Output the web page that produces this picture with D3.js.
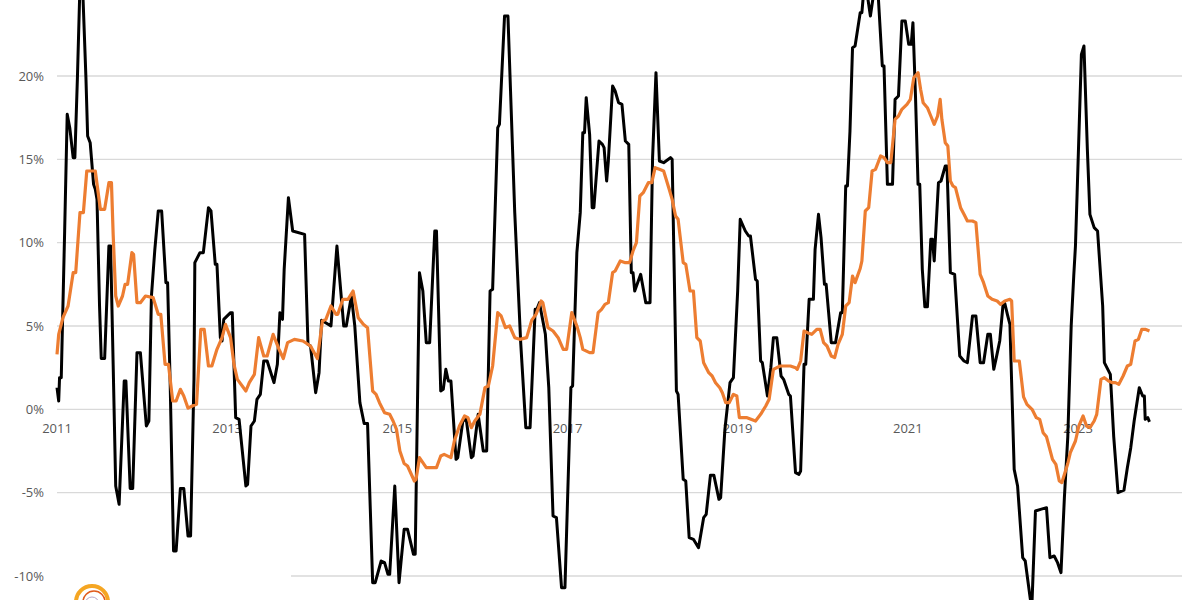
<!DOCTYPE html>
<html>
<head>
<meta charset="utf-8">
<script src="https://cdn.jsdelivr.net/npm/d3@7"></script>
<style>
  html, body { margin: 0; padding: 0; background: #fff; }
  svg { display: block; font-family: "Open Sans", "DejaVu Sans", sans-serif; }
</style>
</head>
<body>
<div id="chart"></div>
<script>
// yearly change, black series: [decimal year, percent]
const blackSeries = [
  [2011.00,1.3],[2011.02,0.5],[2011.03,1.9],[2011.05,1.9],[2011.09,10.7],[2011.12,17.7],[2011.15,16.9],
  [2011.19,15.1],[2011.21,15.1],[2011.24,19.9],[2011.27,25.5],[2011.30,25.5],[2011.34,19.9],[2011.36,16.4],
  [2011.39,16.0],[2011.43,13.5],[2011.45,13.2],[2011.47,12.6],[2011.50,6.2],[2011.52,3.05],[2011.56,3.05],
  [2011.61,9.8],[2011.63,9.8],[2011.66,2.7],[2011.69,-4.6],[2011.73,-5.7],[2011.79,1.7],[2011.81,1.7],
  [2011.86,-4.75],[2011.89,-4.75],[2011.94,3.4],[2011.98,3.4],[2012.05,-1.0],[2012.08,-0.7],[2012.11,6.8],
  [2012.15,9.6],[2012.19,11.9],[2012.23,11.9],[2012.28,7.6],[2012.30,7.6],[2012.33,1.6],[2012.37,-8.5],
  [2012.40,-8.5],[2012.45,-4.75],[2012.49,-4.75],[2012.54,-7.6],[2012.57,-7.6],[2012.61,1.8],[2012.62,8.8],
  [2012.68,9.4],[2012.72,9.4],[2012.78,12.1],[2012.81,11.9],[2012.86,8.7],[2012.88,8.7],[2012.92,4.3],
  [2012.94,4.1],[2012.96,5.4],[2013.04,5.8],[2013.06,5.8],[2013.10,-0.5],[2013.14,-0.6],[2013.22,-4.6],
  [2013.24,-4.5],[2013.28,-1.0],[2013.32,-0.7],[2013.35,0.6],[2013.39,0.9],[2013.43,2.9],[2013.47,2.9],
  [2013.55,1.6],[2013.59,2.7],[2013.62,5.8],[2013.65,5.4],[2013.67,8.4],[2013.72,12.7],[2013.77,10.7],
  [2013.91,10.5],[2013.95,3.9],[2013.98,3.8],[2014.04,1.0],[2014.08,2.2],[2014.11,5.35],[2014.22,5.0],
  [2014.29,9.8],[2014.35,6.2],[2014.37,5.0],[2014.40,5.0],[2014.46,6.8],[2014.50,5.0],[2014.56,0.4],
  [2014.61,-0.85],[2014.65,-0.85],[2014.71,-10.4],[2014.74,-10.4],[2014.81,-9.1],[2014.85,-9.2],
  [2014.89,-9.9],[2014.91,-9.9],[2014.97,-4.6],[2015.02,-10.4],[2015.08,-7.2],[2015.12,-7.2],
  [2015.19,-8.7],[2015.21,-8.7],[2015.26,8.2],[2015.30,7.1],[2015.34,4.0],[2015.38,4.0],[2015.44,10.7],
  [2015.46,10.7],[2015.51,1.1],[2015.54,1.2],[2015.57,2.4],[2015.60,1.7],[2015.63,1.7],[2015.69,-3.0],
  [2015.71,-2.9],[2015.77,-0.7],[2015.81,-0.6],[2015.87,-2.9],[2015.89,-2.8],[2015.95,-0.3],[2016.01,-2.5],
  [2016.05,-2.5],[2016.09,7.1],[2016.12,7.2],[2016.18,16.9],[2016.20,17.1],[2016.26,23.6],[2016.30,23.6],
  [2016.38,11.8],[2016.45,4.0],[2016.51,-1.1],[2016.56,-1.1],[2016.62,6.0],[2016.64,6.0],[2016.67,6.4],
  [2016.74,4.5],[2016.78,1.3],[2016.83,-6.4],[2016.87,-6.5],[2016.93,-10.7],[2016.97,-10.7],[2017.04,1.3],
  [2017.06,1.4],[2017.11,9.4],[2017.15,11.8],[2017.18,16.6],[2017.20,16.6],[2017.22,18.7],[2017.26,16.5],
  [2017.29,12.1],[2017.31,12.1],[2017.37,16.1],[2017.41,15.9],[2017.43,15.7],[2017.46,13.7],[2017.48,14.9],
  [2017.53,19.4],[2017.56,19.1],[2017.60,18.4],[2017.64,18.3],[2017.68,16.1],[2017.72,15.9],[2017.75,8.2],
  [2017.77,8.2],[2017.79,7.1],[2017.86,8.1],[2017.92,6.4],[2017.97,6.4],[2018.00,15.1],[2018.04,20.2],
  [2018.08,14.9],[2018.13,14.8],[2018.21,15.1],[2018.23,15.0],[2018.28,1.1],[2018.30,0.9],[2018.36,-4.2],
  [2018.39,-4.3],[2018.43,-7.7],[2018.48,-7.8],[2018.54,-8.3],[2018.60,-6.5],[2018.63,-6.3],[2018.68,-3.95],
  [2018.72,-3.95],[2018.78,-5.4],[2018.80,-5.3],[2018.85,-1.2],[2018.91,1.6],[2018.95,1.9],[2019.00,7.1],
  [2019.03,11.4],[2019.09,10.7],[2019.13,10.4],[2019.15,10.4],[2019.21,7.8],[2019.23,7.7],[2019.27,2.9],
  [2019.29,2.8],[2019.35,0.8],[2019.39,2.5],[2019.42,4.3],[2019.46,4.3],[2019.51,2.0],[2019.54,1.8],
  [2019.60,0.9],[2019.62,0.8],[2019.68,-3.8],[2019.72,-3.9],[2019.74,-3.7],[2019.78,2.7],[2019.80,2.7],
  [2019.84,6.6],[2019.89,6.6],[2019.91,9.6],[2019.95,11.7],[2019.98,10.3],[2020.02,7.5],[2020.04,7.5],
  [2020.10,4.0],[2020.15,4.0],[2020.21,5.8],[2020.23,5.8],[2020.27,13.4],[2020.29,13.4],[2020.32,16.7],
  [2020.35,21.7],[2020.38,21.8],[2020.44,23.8],[2020.46,23.8],[2020.48,25.0],[2020.52,25.0],[2020.56,23.6],
  [2020.60,25.0],[2020.65,25.0],[2020.70,20.6],[2020.72,20.6],[2020.76,13.5],[2020.82,13.5],[2020.85,18.6],
  [2020.89,18.8],[2020.93,23.3],[2020.97,23.3],[2021.01,21.9],[2021.04,21.9],[2021.06,23.2],[2021.09,18.8],
  [2021.12,13.5],[2021.14,13.5],[2021.17,8.4],[2021.20,6.15],[2021.23,6.15],[2021.27,10.2],[2021.29,10.2],
  [2021.31,8.9],[2021.36,13.6],[2021.39,13.7],[2021.44,14.6],[2021.46,14.6],[2021.50,8.2],[2021.55,8.1],
  [2021.61,3.2],[2021.66,2.9],[2021.70,2.8],[2021.76,5.6],[2021.80,5.6],[2021.85,2.8],[2021.89,2.8],
  [2021.94,4.5],[2021.97,4.5],[2022.01,2.4],[2022.04,3.1],[2022.08,4.1],[2022.12,6.35],[2022.14,6.35],
  [2022.17,5.7],[2022.20,5.1],[2022.25,-3.6],[2022.29,-4.6],[2022.35,-8.9],[2022.38,-9.1],[2022.44,-11.4],
  [2022.46,-11.5],[2022.50,-6.1],[2022.56,-6.0],[2022.63,-5.9],[2022.67,-8.9],[2022.72,-8.8],[2022.76,-9.2],
  [2022.80,-9.8],[2022.84,-5.3],[2022.88,-1.65],[2022.92,5.0],[2022.95,8.0],[2022.97,9.8],[2022.99,13.0],
  [2023.04,21.3],[2023.07,21.8],[2023.11,15.6],[2023.14,11.7],[2023.19,10.9],[2023.23,10.7],[2023.29,6.2],
  [2023.31,2.8],[2023.38,2.1],[2023.42,-1.65],[2023.47,-5.0],[2023.54,-4.85],[2023.58,-3.5],[2023.62,-2.3],
  [2023.66,-0.7],[2023.72,1.3],[2023.76,0.8],[2023.78,0.8],[2023.79,-0.6],[2023.82,-0.5],[2023.84,-0.75]
];

// smoothed series, orange: [decimal year, percent]
const orangeSeries = [
  [2011.00,3.3],[2011.02,4.5],[2011.07,5.5],[2011.13,6.2],[2011.19,8.2],[2011.22,8.2],[2011.27,11.8],
  [2011.31,11.8],[2011.35,14.3],[2011.45,14.3],[2011.51,12.0],[2011.56,12.0],[2011.61,13.6],[2011.64,13.6],
  [2011.66,10.5],[2011.69,6.8],[2011.72,6.2],[2011.77,6.8],[2011.80,7.5],[2011.83,7.5],[2011.88,9.4],
  [2011.90,9.3],[2011.94,6.4],[2011.98,6.4],[2012.04,6.8],[2012.13,6.7],[2012.19,5.7],[2012.22,5.7],
  [2012.27,2.7],[2012.31,2.7],[2012.36,0.5],[2012.40,0.5],[2012.45,1.2],[2012.49,0.8],[2012.54,0.07],
  [2012.59,0.2],[2012.64,0.3],[2012.69,4.8],[2012.73,4.8],[2012.78,2.6],[2012.82,2.6],[2012.88,3.6],
  [2012.94,4.3],[2012.98,5.1],[2013.04,4.3],[2013.08,2.7],[2013.12,1.8],[2013.22,1.1],[2013.26,1.6],
  [2013.32,2.1],[2013.37,4.3],[2013.43,3.2],[2013.47,3.2],[2013.54,4.5],[2013.61,3.6],[2013.66,3.05],
  [2013.71,4.0],[2013.79,4.2],[2013.89,4.1],[2013.98,3.8],[2014.06,3.05],[2014.12,5.3],[2014.16,5.4],
  [2014.22,6.2],[2014.28,5.7],[2014.30,5.7],[2014.36,6.6],[2014.42,6.6],[2014.48,7.1],[2014.54,5.5],
  [2014.60,5.1],[2014.65,4.9],[2014.71,1.1],[2014.75,0.9],[2014.79,0.4],[2014.85,-0.2],[2014.91,-0.3],
  [2014.95,-0.7],[2014.99,-1.2],[2015.03,-2.5],[2015.08,-3.25],[2015.12,-3.4],[2015.20,-4.3],[2015.22,-4.2],
  [2015.26,-2.9],[2015.34,-3.5],[2015.46,-3.5],[2015.51,-2.8],[2015.55,-2.7],[2015.63,-2.9],[2015.67,-1.9],
  [2015.73,-1.0],[2015.79,-0.4],[2015.83,-0.5],[2015.87,-1.1],[2015.91,-0.7],[2015.97,-0.3],[2016.03,1.3],
  [2016.07,1.4],[2016.12,2.6],[2016.18,5.8],[2016.22,5.6],[2016.27,4.9],[2016.32,5.0],[2016.38,4.3],
  [2016.44,4.2],[2016.52,4.3],[2016.58,5.35],[2016.63,5.7],[2016.69,6.5],[2016.71,6.4],[2016.77,4.9],
  [2016.83,4.7],[2016.89,4.3],[2016.95,3.6],[2016.99,3.6],[2017.05,5.8],[2017.11,5.0],[2017.15,4.3],
  [2017.18,3.6],[2017.26,3.4],[2017.30,3.4],[2017.36,5.8],[2017.40,6.0],[2017.44,6.3],[2017.48,6.4],
  [2017.53,8.2],[2017.56,8.3],[2017.62,8.9],[2017.68,8.8],[2017.73,8.8],[2017.77,9.5],[2017.81,10.0],
  [2017.85,12.8],[2017.89,13.0],[2017.95,13.6],[2017.99,13.6],[2018.03,14.5],[2018.08,14.4],[2018.13,14.3],
  [2018.19,13.3],[2018.23,12.6],[2018.27,11.6],[2018.30,11.4],[2018.36,8.8],[2018.39,8.7],[2018.44,7.1],
  [2018.48,7.1],[2018.52,4.3],[2018.56,4.1],[2018.60,2.8],[2018.66,2.2],[2018.70,2.0],[2018.74,1.6],
  [2018.79,1.3],[2018.82,1.0],[2018.86,0.4],[2018.90,0.4],[2018.95,0.9],[2018.99,0.8],[2019.02,-0.5],
  [2019.11,-0.5],[2019.21,-0.7],[2019.27,-0.3],[2019.33,0.2],[2019.37,0.6],[2019.42,2.4],[2019.50,2.6],
  [2019.62,2.6],[2019.68,2.5],[2019.70,2.4],[2019.74,2.9],[2019.78,4.7],[2019.82,4.6],[2019.87,4.5],
  [2019.93,4.8],[2019.97,4.8],[2020.01,4.0],[2020.05,3.8],[2020.10,3.2],[2020.14,3.1],[2020.18,3.9],
  [2020.23,4.5],[2020.27,6.2],[2020.31,6.4],[2020.35,8.0],[2020.38,7.6],[2020.44,8.45],[2020.46,8.9],
  [2020.50,11.9],[2020.54,12.1],[2020.58,14.3],[2020.62,14.4],[2020.68,15.2],[2020.72,15.1],[2020.76,14.8],
  [2020.80,14.8],[2020.85,17.4],[2020.89,17.6],[2020.93,18.0],[2020.99,18.3],[2021.03,18.6],[2021.07,19.9],
  [2021.12,20.2],[2021.15,19.2],[2021.18,18.4],[2021.23,18.1],[2021.27,17.6],[2021.31,17.1],[2021.35,17.6],
  [2021.38,18.6],[2021.40,17.4],[2021.44,16.0],[2021.47,15.8],[2021.50,13.7],[2021.53,13.4],[2021.56,13.3],
  [2021.62,12.1],[2021.66,11.7],[2021.70,11.3],[2021.76,11.3],[2021.80,11.2],[2021.85,8.1],[2021.89,7.6],
  [2021.94,6.8],[2021.99,6.6],[2022.05,6.5],[2022.09,6.3],[2022.14,6.5],[2022.20,6.6],[2022.22,6.5],
  [2022.25,2.9],[2022.31,2.9],[2022.36,0.75],[2022.40,0.3],[2022.46,0.0],[2022.51,-0.5],[2022.55,-0.6],
  [2022.59,-1.4],[2022.63,-1.65],[2022.70,-3.0],[2022.74,-3.3],[2022.78,-4.3],[2022.81,-4.4],[2022.88,-3.25],
  [2022.91,-2.6],[2022.97,-1.9],[2023.01,-1.0],[2023.06,-0.4],[2023.10,-1.0],[2023.14,-1.1],[2023.19,-0.7],
  [2023.22,-0.3],[2023.27,1.8],[2023.31,1.9],[2023.36,1.7],[2023.40,1.6],[2023.44,1.6],[2023.48,1.5],
  [2023.53,2.0],[2023.58,2.6],[2023.62,2.7],[2023.67,4.1],[2023.71,4.2],[2023.75,4.8],[2023.79,4.8],
  [2023.84,4.7]
];

const yTicks = [-10, -5, 0, 5, 10, 15, 20];
const xTicks = [2011, 2013, 2015, 2017, 2019, 2021, 2023];

const width = 1200, height = 600;

const xScale = d3.scaleLinear().domain([2011, 2023]).range([57, 1078]);
const yScale = d3.scaleLinear().domain([-10, 20]).range([576, 76]);

const svg = d3.select('#chart').append('svg')
    .attr('width', width)
    .attr('height', height);

svg.append('defs').append('clipPath').attr('id', 'plot')
    .append('rect').attr('x', 0).attr('y', 0).attr('width', width).attr('height', height);

// gridlines (the -10% one starts to the right of the logo)
svg.append('g').selectAll('line')
    .data(yTicks)
    .enter()
    .append('line')
    .attr('x1', d => d === -10 ? 291 : 57)
    .attr('x2', 1182)
    .attr('y1', d => yScale(d))
    .attr('y2', d => yScale(d))
    .attr('stroke', '#d9d9d9')
    .attr('stroke-width', 1.3);

// y labels
svg.append('g').selectAll('text')
    .data(yTicks)
    .enter()
    .append('text')
    .attr('x', 44)
    .attr('y', d => yScale(d))
    .attr('dy', '0.35em')
    .attr('text-anchor', 'end')
    .attr('fill', '#595959')
    .style('font-size', '13px')
    .text(d => d + '%');

// x labels sit just under the 0% line
svg.append('g').selectAll('text')
    .data(xTicks)
    .enter()
    .append('text')
    .attr('x', d => xScale(d))
    .attr('y', yScale(0) + 24)
    .attr('text-anchor', 'middle')
    .attr('fill', '#595959')
    .style('font-size', '13px')
    .text(d => d);

const line = d3.line()
    .x(d => xScale(d[0]))
    .y(d => yScale(d[1]));

svg.append('path')
    .datum(blackSeries)
    .attr('clip-path', 'url(#plot)')
    .attr('fill', 'none')
    .attr('stroke', '#000')
    .attr('stroke-width', 3)
    .attr('stroke-linejoin', 'round')
    .attr('d', line);

svg.append('path')
    .datum(orangeSeries)
    .attr('fill', 'none')
    .attr('stroke', '#ed7d31')
    .attr('stroke-width', 3.2)
    .attr('stroke-linejoin', 'round')
    .attr('d', line);

// little logo mark at bottom left
const logo = svg.append('g').attr('transform', 'translate(92, 602)');
logo.append('circle').attr('r', 16).attr('fill', 'none').attr('stroke', '#f5a623').attr('stroke-width', 4);
logo.append('circle').attr('r', 11).attr('cx', 2).attr('fill', '#fff').attr('stroke', '#e05a1c').attr('stroke-width', 1.5);
logo.append('circle').attr('r', 7).attr('cx', 0).attr('cy', 2).attr('fill', 'none').attr('stroke', '#b9a6c9').attr('stroke-width', 1);
</script>
</body>
</html>
